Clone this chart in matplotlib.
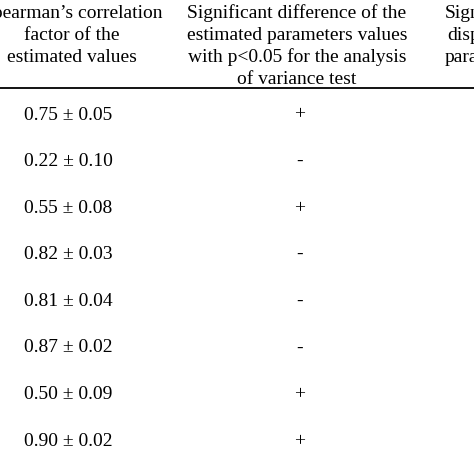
import matplotlib
matplotlib.use("Agg")
import matplotlib.pyplot as plt

col1_header = ["Spearman\u2019s correlation", "factor of the", "estimated values"]
col2_header = ["Significant difference of the", "estimated parameters values",
               "with p<0.05 for the analysis", "of variance test"]
col3_header = ["Significant", "dispersion", "parameters"]
corr = ["0.75 \u00b1 0.05", "0.22 \u00b1 0.10", "0.55 \u00b1 0.08", "0.82 \u00b1 0.03",
        "0.81 \u00b1 0.04", "0.87 \u00b1 0.02", "0.50 \u00b1 0.09", "0.90 \u00b1 0.02"]
signif = ["+", "-", "+", "-", "-", "-", "+", "+"]

plt.rcParams["font.family"] = ["Liberation Serif", "DejaVu Serif"]
fig = plt.figure(figsize=(4.74, 4.74), dpi=100)
ax = fig.add_axes([0, 0, 1, 1])
ax.set_xlim(0, 474)
ax.set_ylim(474, 0)
ax.axis("off")

fs = 14
for i, t in enumerate(col1_header):
    ax.text(72, 13 + 22 * i, t, ha="center", va="center", fontsize=fs)
for i, t in enumerate(col2_header):
    ax.text(297, 13 + 22 * i, t, ha="center", va="center", fontsize=fs)
for i, t in enumerate(col3_header):
    ax.text(488, 13 + 22 * i, t, ha="center", va="center", fontsize=fs)
ax.plot([0, 474], [88, 88], color="black", lw=1.3)

for i, (c, s) in enumerate(zip(corr, signif)):
    y = 115 + 46.6 * i
    ax.text(68, y, c, ha="center", va="center", fontsize=fs)
    ax.text(300, y, s, ha="center", va="center", fontsize=fs)

fig.savefig("out.png", dpi=100)
